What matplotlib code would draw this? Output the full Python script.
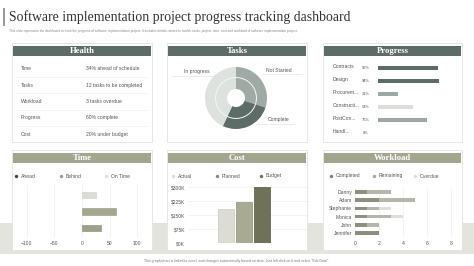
import matplotlib
matplotlib.use("Agg")
import matplotlib.pyplot as plt
import matplotlib.transforms as mtransforms
from matplotlib.patches import Rectangle, Circle

# ---------------- data ----------------
title = "Software implementation project progress tracking dashboard"
subtitle = ("This slide represents the dashboard to track the progress of software implementation project. "
            "It includes details related to health, tasks, project, time, cost and workload of software implementation project.")
footer = ('This graph/chart is linked to excel, and changes automatically based on data. '
          'Just left click on it and select "Edit Data".')

health_labels = ["Time", "Tasks", "Workload", "Progress", "Cost"]
health_values = ["34% ahead of schedule", "12 tasks to be completed", "3 tasks overdue",
                 "60% complete", "20% under budget"]

task_labels = ["Not Started", "Complete", "In progress"]
task_values = [30, 27, 43]

progress_labels = ["Contracts", "Design", "Procurem...", "Constructi...", "PostCon...", "Handl..."]
progress_values = [92, 94, 31, 54, 76, 0]

time_legend = ["Ahead", "Behind", "On Time"]
time_values = [25, 62, 34]
time_ticks = [-100, -50, 0, 50, 100]

cost_labels = ["Actual", "Planned", "Budget"]
cost_values = [180, 222, 300]
cost_ticks = [0, 75, 150, 225, 300]
cost_ticklabels = ["$0K", "$75K", "$150K", "$225K", "$300K"]

workload_names = ["Danny", "Adam", "Stephanie", "Monica", "John", "Jennifer"]
workload_completed = [1, 2, 1, 1, 1, 2]
workload_remaining = [2, 3, 1, 2, 1, 0]
workload_overdue = [0, 0, 1, 1, 0, 0]
workload_legend = ["Completed", "Remaining", "Overdue"]
workload_ticks = [0, 2, 4, 6, 8]

# ---------------- styles ----------------
W, H = 474, 266
DARK = "#5e6c67"
OLIVE_HDR = "#a4a58f"
SANS = "Liberation Sans"
SERIF = "Liberation Serif"
TXT = "#555555"
FS = 3.6

fig = plt.figure(figsize=(W / 100, H / 100), dpi=100)
fig.patch.set_facecolor("white")
bg = fig.add_axes([0, 0, 1, 1])
bg.set_xlim(0, W)
bg.set_ylim(H, 0)
bg.axis("off")


def px_axes(x0, y0, x1, y1):
    return fig.add_axes([x0 / W, 1 - y1 / H, (x1 - x0) / W, (y1 - y0) / H])


# gray band behind lower panels
bg.add_patch(Rectangle((0, 223), W, 31, facecolor="#e4e4df", edgecolor="none", zorder=0))

# title
bg.add_patch(Rectangle((3, 8), 2, 18, facecolor="#9a9a9a", edgecolor="none"))
bg.text(9, 17.5, title, fontsize=9.9, family=SERIF, color="#333333", va="center", ha="left")
bg.text(9, 31, subtitle, fontsize=2.3, family=SANS, color="#888888", va="center", ha="left")
bg.text(237, 261, footer, fontsize=2.5, family=SANS, color="#777777", va="center", ha="center")


def panel(x0, y0, x1, y1, hdr_color, name):
    bg.add_patch(Rectangle((x0, y0), x1 - x0, y1 - y0, facecolor="white",
                           edgecolor="#e3e3e3", lw=0.6, zorder=1))
    bg.add_patch(Rectangle((x0 + 1, y0 + 3), x1 - x0 - 2, 10, facecolor=hdr_color,
                           edgecolor="none", zorder=2))
    bg.text((x0 + x1) / 2, y0 + 8.2, name, fontsize=6.2, family=SERIF, weight="bold",
            color="white", ha="center", va="center", zorder=3)


panel(12, 43, 152, 142, DARK, "Health")
panel(167, 43, 307, 142, DARK, "Tasks")
panel(323, 43, 462, 142, DARK, "Progress")
panel(12, 150, 152, 250, OLIVE_HDR, "Time")
panel(167, 150, 307, 250, OLIVE_HDR, "Cost")
panel(323, 150, 462, 250, OLIVE_HDR, "Workload")

# ---------------- Health ----------------
for i, (lab, val) in enumerate(zip(health_labels, health_values)):
    y = 69 + i * 16.3
    bg.text(21, y, lab, fontsize=FS, family=SANS, color=TXT, va="center", zorder=4)
    bg.text(86, y, val, fontsize=FS, family=SANS, color=TXT, va="center", zorder=4)
    if i < len(health_labels) - 1:
        bg.plot([17, 147], [y + 8, y + 8], color="#f0f0f0", lw=0.5, zorder=4)

# ---------------- Tasks (double donut) ----------------
R = 31
cx, cy = 236, 98
axd = px_axes(cx - R, cy - R, cx + R, cy + R)
task_colors = ["#a0aaa5", "#5e6c67", "#dde2df"]
axd.pie(task_values, radius=1.0, startangle=90, counterclock=False, colors=task_colors,
        wedgeprops=dict(width=0.34, edgecolor="none"))
axd.pie(task_values, radius=0.66, startangle=90, counterclock=False, colors=task_colors,
        wedgeprops=dict(width=0.37, edgecolor="none"))
axd.add_patch(Circle((0, 0), 0.66, fill=False, edgecolor="#f4f4f4", lw=0.7))
axd.set_xlim(-1, 1)
axd.set_ylim(-1, 1)
axd.set_aspect("equal")
axd.axis("off")

task_label_pos = {"Not Started": (266, 70, 262, 302), "Complete": (268, 120, 256, 296),
                  "In progress": (184, 72, 172, 232)}
for lab in task_labels:
    tx, ty, l0, l1 = task_label_pos[lab]
    bg.text(tx, ty, lab, fontsize=FS, family=SANS, color=TXT, va="center", zorder=4)
    bg.plot([l0, l1], [ty + 4, ty + 4], color="#e6e6e6", lw=0.5, zorder=4)

# ---------------- Progress ----------------
axp = px_axes(378, 61.5, 450, 139.5)
prog_colors = [DARK, DARK, "#9ea8a3", "#dadfdc", "#9ea8a3", "#dadfdc"]
idx = list(range(len(progress_labels)))
axp.barh(idx, progress_values, height=0.32, color=prog_colors)
axp.set_xlim(0, 110.8)
axp.set_ylim(len(idx) - 0.5, -0.5)
axp.axis("off")
blend = mtransforms.blended_transform_factory(bg.transData, axp.transData)
for i, (lab, v) in enumerate(zip(progress_labels, progress_values)):
    bg.text(333, i - 0.12, lab, transform=blend, fontsize=FS, family=SANS, color=TXT,
            va="center", ha="left", zorder=4)
    bg.text(366, i, f"{v}%", transform=blend, fontsize=2.9, family=SANS, color=TXT,
            va="center", ha="center", zorder=4)


# ---------------- legends ----------------
def legend_row(items, colors, xs, y):
    for lab, c, x in zip(items, colors, xs):
        bg.scatter([x], [y], s=6, color=c, zorder=5, linewidths=0)
        bg.text(x + 5, y, lab, fontsize=FS, family=SANS, color=TXT, va="center", zorder=5)


legend_row(time_legend, ["#444444", "#9a9a9a", "#dddddd"], [16, 61, 106], 176)
legend_row(cost_labels, ["#dcdcd5", "#8d8e78", "#6e6f58"], [173, 217, 261], 176)
legend_row(workload_legend, ["#7e7e70", "#a9a99c", "#dcdcd6"], [331, 374, 415], 176)


def style_ax(ax):
    for s in ax.spines.values():
        s.set_visible(False)
    ax.tick_params(length=0, labelsize=FS, labelcolor=TXT)
    for t in ax.get_xticklabels() + ax.get_yticklabels():
        t.set_family(SANS)
    ax.set_facecolor("none")


# ---------------- Time ----------------
axt = px_axes(21.2, 185, 145.5, 238)
time_colors = ["#dcdcd6", "#a5a68f", "#9fa089"]
axt.barh(range(len(time_values)), time_values, height=0.38, color=time_colors,
         edgecolor=["#d0d0ca", "#95967f", "#85866f"], linewidth=0.4, zorder=3)
axt.set_xlim(-110, 115)
axt.set_ylim(len(time_values) - 0.4, -0.6)
axt.set_xticks(time_ticks)
axt.set_yticks([])
axt.grid(axis="x", color="#efefef", lw=0.5, zorder=0)
style_ax(axt)
axt.tick_params(axis="x", pad=2.5)

# ---------------- Cost ----------------
axc = px_axes(188, 185, 307, 243)
cidx = list(range(len(cost_values)))
axc.bar(cidx, cost_values, width=0.88, color=["#dcdcd5", "#a9aa92", "#707159"],
        edgecolor=["#c9c9c2", "#8f907a", "#55563f"], linewidth=0.5, zorder=3)
axc.set_ylim(0, 311)
axc.set_xlim(-2.1, 4.5)
axc.set_yticks(cost_ticks)
axc.set_yticklabels(cost_ticklabels)
axc.set_xticks([])
axc.grid(axis="y", color="#efefef", lw=0.5, zorder=0)
style_ax(axc)
axc.tick_params(axis="y", pad=2)

# ---------------- Workload ----------------
axw = px_axes(355, 188, 455, 237)
widx = list(range(len(workload_names)))
left2 = [a + b for a, b in zip(workload_completed, workload_remaining)]
axw.barh(widx, workload_completed, height=0.45, color="#8f8f80", zorder=3)
axw.barh(widx, workload_remaining, left=workload_completed, height=0.45, color="#b6b6aa", zorder=3)
axw.barh(widx, workload_overdue, left=left2, height=0.45, color="#e0e0da", zorder=3)
axw.set_xlim(0, 8.33)
axw.set_ylim(len(widx) - 0.5, -0.5)
axw.set_yticks(widx)
axw.set_yticklabels(workload_names)
axw.set_xticks(workload_ticks)
axw.grid(axis="x", color="#efefef", lw=0.5, zorder=0)
style_ax(axw)
axw.tick_params(axis="x", pad=3)
axw.tick_params(axis="y", pad=2)

fig.savefig("out.png", dpi=100, facecolor="white")
